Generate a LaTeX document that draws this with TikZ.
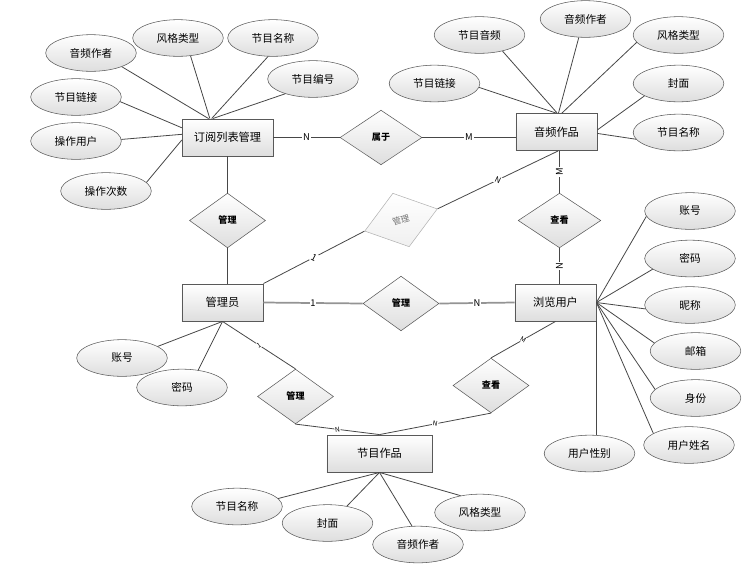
\documentclass[tikz,border=0pt]{standalone}
\usepackage{fontspec}
\setmainfont{Noto Sans CJK SC}
\usetikzlibrary{shapes.geometric}

\begin{document}
\begin{tikzpicture}[x=0.75pt,y=0.75pt,yscale=-1,
  ent/.style={draw=black!65, top color=white, bottom color=black!13, minimum width=61pt, minimum height=28pt, inner sep=0pt, font=\fontsize{8.4}{10}\selectfont},
  attr/.style={ellipse, draw=black!65, top color=white, bottom color=black!13, minimum width=68pt, minimum height=27.5pt, inner sep=0pt, font=\fontsize{8}{10}\selectfont},
  rel/.style={diamond, draw=black!65, top color=white, bottom color=black!13, minimum width=57pt, minimum height=41pt, inner sep=0pt, font=\bfseries\fontsize{6.8}{8}\selectfont},
  relfaint/.style={diamond, draw=black!30, top color=white, bottom color=black!6, text=black!55, minimum width=57pt, minimum height=42pt, inner sep=0pt, font=\fontsize{6.5}{8}\selectfont},
  lk/.style={draw=black!72, line width=0.6pt},
  lkgray/.style={draw=black!42, line width=1.3pt},
  card/.style={fill=white, inner sep=0.6pt, font=\fontsize{7}{8}\selectfont},
  cardsm/.style={fill=white, inner sep=0.4pt, font=\fontsize{5}{6}\selectfont}
]
\useasboundingbox (0,0) rectangle (749,568);

% entities
\node [ent, minimum width=68pt] (sub) at (227.5,137.5) {订阅列表管理};
\node [ent] (audio) at (556.5,132) {音频作品};
\node [ent] (admin) at (222.5,302.5) {管理员};
\node [ent] (user) at (555.5,302.5) {浏览用户};
\node [ent, minimum width=79pt] (prog) at (379.5,453.5) {节目作品};

% relations
\node [rel, minimum width=61.5pt] (belong) at (381,137.5) {属于};
\node [rel] (mgA) at (227.5,220.5) {管理};
\node [relfaint, rotate=17] (mgB) at (401,220) {管理};
\node [rel] (mgC) at (401,303.5) {管理};
\node [rel, minimum width=62pt] (viewA) at (559.5,220.5) {查看};
\node [rel] (mgD) at (295.5,396.5) {管理};
\node [rel] (viewB) at (491,385.5) {查看};

% attributes of 订阅列表管理
\node [attr] (sAuthor) at (91,53) {音频作者};
\node [attr] (sStyle) at (178,38) {风格类型};
\node [attr] (sName) at (273,38) {节目名称};
\node [attr] (sNo) at (313,79) {节目编号};
\node [attr] (sLink) at (76,97) {节目链接};
\node [attr] (sUser) at (76,141) {操作用户};
\node [attr] (sCount) at (106,191) {操作次数};

% attributes of 音频作品
\node [attr] (aProg) at (479.5,35) {节目音频};
\node [attr] (aAuthor) at (585.5,19) {音频作者};
\node [attr] (aStyle) at (678.5,35) {风格类型};
\node [attr] (aLink) at (434.5,83.5) {节目链接};
\node [attr] (aCover) at (678.5,83.5) {封面};
\node [attr] (aName) at (678.5,132.5) {节目名称};

% attributes of 浏览用户
\node [attr] (uAcc) at (690,211) {账号};
\node [attr] (uPwd) at (690,258.5) {密码};
\node [attr] (uNick) at (690,305) {昵称};
\node [attr] (uMail) at (695.5,351) {邮箱};
\node [attr] (uId) at (695.5,398) {身份};
\node [attr] (uName) at (689,445) {用户姓名};
\node [attr] (uSex) at (589.5,453.5) {用户性别};

% attributes of 管理员
\node [attr] (mAcc) at (122,358) {账号};
\node [attr] (mPwd) at (182,387.5) {密码};

% attributes of 节目作品
\node [attr] (pName) at (237,506.5) {节目名称};
\node [attr] (pCover) at (327.5,523) {封面};
\node [attr] (pAuthor) at (418,544.5) {音频作者};
\node [attr] (pStyle) at (480,512.5) {风格类型};

% attribute links
\draw [lk] (sAuthor.-24) -- (sub.135);
\draw [lk] (sStyle.-55) -- (sub.133);
\draw [lk] (sName.255) -- (sub.130);
\draw [lk] (sNo.208) -- (sub.128);
\draw [lk] (sLink.-6) -- (sub.168);
\draw [lk] (sUser.2) -- (sub.176);
\draw [lk] (sCount.12) -- (sub.183);

\draw [lk] (aLink.-5) -- (audio.91);
\draw [lk] (aProg.-35) -- (audio.88);
\draw [lk] (aAuthor.250) -- (audio.84);
\draw [lk] (aStyle.190) -- (audio.74);
\draw [lk] (aCover.200) -- (audio.3);
\draw [lk] (aName.189) -- (audio.-2);

\draw [lk] (uAcc.187) -- (user.east);
\draw [lk] (uPwd.196) -- (user.east);
\draw [lk] (uNick.185) -- (user.east);
\draw [lk] (uMail.169) -- (user.east);
\draw [lk] (uId.168) -- (user.east);
\draw [lk] (uName.162) -- (user.east);
\draw [lk] (user.south east) -- (user.south east |- uSex.north);

\draw [lk] (mAcc.18) -- (admin.south);
\draw [lk] (mPwd.47) -- (admin.south);

\draw [lk] (pName.11) -- (prog.south);
\draw [lk] (pCover.41) -- (prog.south);
\draw [lk] (pAuthor.108) -- (prog.south);
\draw [lk] (pStyle.139) -- (prog.south);

% relation links
\draw [lk] (sub.east) -- node [card] {N} (belong.west);
\draw [lk] (belong.east) -- node [card] {M} (belong.east -| audio.west);
\draw [lk] (sub.south) -- (mgA.north);
\draw [lk] (mgA.south) -- (mgA.south |- admin.north);
\draw [lk] (admin.north east) -- node [card, sloped] {1} (mgB.west);
\draw [lk] (mgB.east) -- node [card, sloped, font=\fontsize{6}{7}\selectfont] {N} (audio.-85);
\draw [lk] (viewA.north |- audio.south) -- node [card, sloped] {M} (viewA.north);
\draw [lk] (viewA.south) -- node [card, sloped] {N} (viewA.south |- user.north);
\draw [lkgray] (admin.east) -- node [card] {1} (mgC.west);
\draw [lkgray] (mgC.east) -- node [card] {N} (user.west);
\draw [lk] (admin.south) -- node [cardsm, sloped] {1} (mgD.north);
\draw [lk] (mgD.south) -- node [cardsm, sloped] {N} (prog.north);
\draw [lk] (prog.north) -- node [cardsm, sloped] {N} (viewB.south);
\draw [lk] (viewB.north) -- node [cardsm, sloped] {M} (user.south);

\end{tikzpicture}
\end{document}
